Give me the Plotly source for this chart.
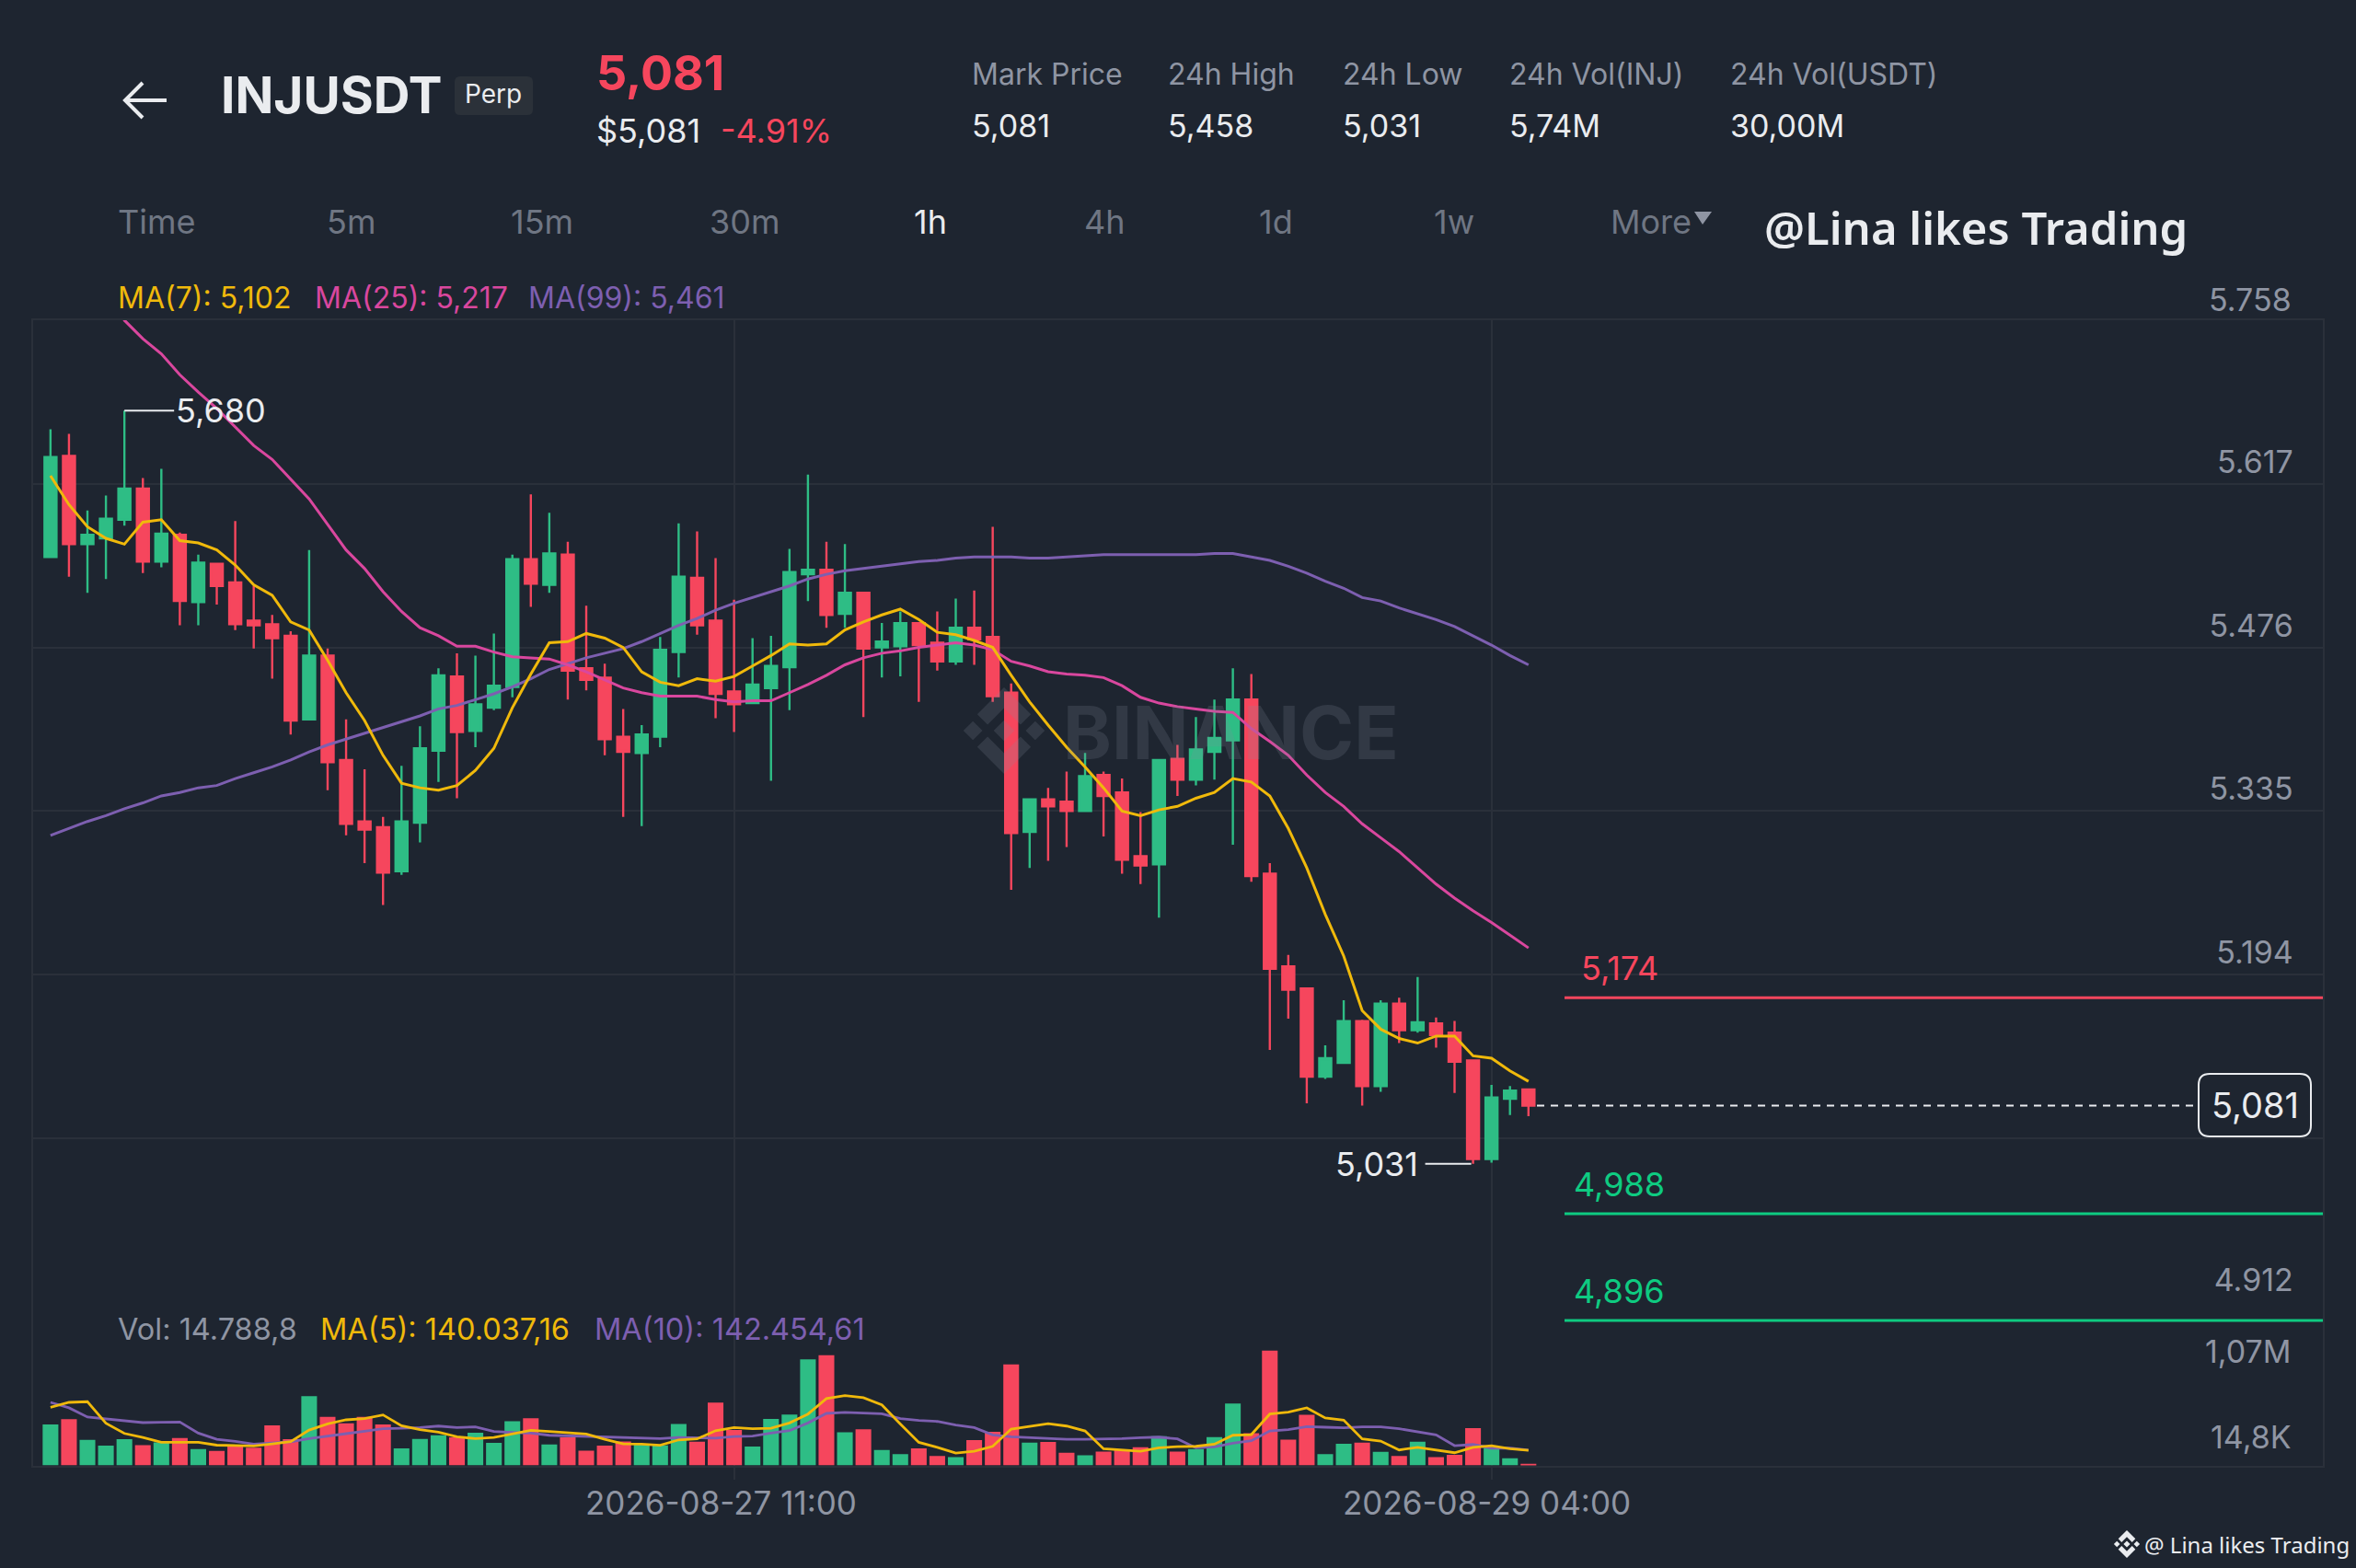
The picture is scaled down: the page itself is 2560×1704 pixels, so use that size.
import pandas as pd
import plotly.graph_objects as go

W, H = 2560, 1704

# hourly candles, first one is 2026-08-25 22:00
start_time = "2026-08-25 22:00"

opens = [5.554, 5.641, 5.565, 5.570, 5.586, 5.613, 5.550, 5.573, 5.515, 5.548,
         5.532, 5.499, 5.496, 5.486, 5.414, 5.469, 5.379, 5.326, 5.321, 5.283,
         5.325, 5.387, 5.451, 5.404, 5.424, 5.442, 5.552, 5.530, 5.556, 5.458,
         5.450, 5.399, 5.385, 5.399, 5.472, 5.536, 5.499, 5.438, 5.428, 5.441,
         5.459, 5.539, 5.543, 5.505, 5.523, 5.476, 5.477, 5.497, 5.480, 5.464,
         5.493, 5.485, 5.437, 5.317, 5.345, 5.343, 5.335, 5.366, 5.351, 5.296,
         5.289, 5.380, 5.362, 5.386, 5.396, 5.431, 5.281, 5.201, 5.182, 5.106,
         5.118, 5.154, 5.098, 5.169, 5.146, 5.152, 5.144, 5.120, 5.035, 5.087,
         5.095]
highs = [5.664, 5.660, 5.594, 5.607, 5.680, 5.622, 5.630, 5.575, 5.556, 5.549,
         5.585, 5.529, 5.504, 5.490, 5.560, 5.475, 5.414, 5.371, 5.330, 5.374,
         5.408, 5.458, 5.471, 5.469, 5.488, 5.556, 5.608, 5.592, 5.567, 5.512,
         5.462, 5.423, 5.409, 5.485, 5.583, 5.576, 5.553, 5.517, 5.484, 5.486,
         5.561, 5.625, 5.567, 5.565, 5.523, 5.497, 5.507, 5.497, 5.507, 5.518,
         5.525, 5.580, 5.445, 5.345, 5.355, 5.369, 5.385, 5.369, 5.363, 5.334,
         5.379, 5.392, 5.416, 5.431, 5.458, 5.453, 5.290, 5.211, 5.182, 5.133,
         5.172, 5.155, 5.172, 5.174, 5.192, 5.157, 5.154, 5.121, 5.099, 5.098,
         5.096]
lows = [5.554, 5.537, 5.523, 5.535, 5.581, 5.540, 5.545, 5.495, 5.495, 5.513,
        5.491, 5.475, 5.449, 5.401, 5.414, 5.353, 5.314, 5.290, 5.254, 5.280,
        5.308, 5.360, 5.346, 5.390, 5.422, 5.433, 5.511, 5.523, 5.431, 5.439,
        5.383, 5.330, 5.322, 5.390, 5.450, 5.487, 5.415, 5.403, 5.428, 5.361,
        5.422, 5.516, 5.493, 5.493, 5.416, 5.450, 5.451, 5.429, 5.456, 5.461,
        5.461, 5.429, 5.267, 5.286, 5.292, 5.304, 5.335, 5.313, 5.281, 5.272,
        5.243, 5.348, 5.357, 5.362, 5.306, 5.274, 5.129, 5.156, 5.083, 5.104,
        5.117, 5.081, 5.093, 5.135, 5.144, 5.131, 5.092, 5.031, 5.032, 5.073,
        5.072]
closes = [5.640, 5.565, 5.573, 5.587, 5.613, 5.550, 5.574, 5.516, 5.549, 5.529,
          5.496, 5.495, 5.484, 5.413, 5.469, 5.377, 5.324, 5.319, 5.282, 5.326,
          5.389, 5.452, 5.403, 5.427, 5.443, 5.552, 5.531, 5.557, 5.456, 5.448,
          5.397, 5.386, 5.401, 5.474, 5.537, 5.495, 5.436, 5.427, 5.444, 5.460,
          5.541, 5.543, 5.504, 5.523, 5.475, 5.481, 5.497, 5.478, 5.464, 5.493,
          5.483, 5.434, 5.316, 5.345, 5.339, 5.335, 5.365, 5.348, 5.293, 5.288,
          5.379, 5.362, 5.388, 5.398, 5.431, 5.279, 5.199, 5.181, 5.106, 5.122,
          5.154, 5.098, 5.169, 5.146, 5.153, 5.142, 5.119, 5.035, 5.088, 5.094,
          5.081]

ma7 = [5.624, 5.599, 5.580, 5.570, 5.565, 5.584, 5.586, 5.568, 5.566, 5.560,
       5.547, 5.530, 5.521, 5.498, 5.491, 5.465, 5.437, 5.413, 5.383, 5.359,
       5.355, 5.353, 5.357, 5.370, 5.389, 5.424, 5.453, 5.480, 5.481, 5.488,
       5.484, 5.476, 5.455, 5.446, 5.443, 5.449, 5.447, 5.451, 5.460, 5.469,
       5.479, 5.478, 5.479, 5.491, 5.498, 5.504, 5.509, 5.500, 5.489, 5.487,
       5.482, 5.476, 5.452, 5.429, 5.409, 5.390, 5.373, 5.355, 5.335, 5.331,
       5.336, 5.339, 5.346, 5.351, 5.363, 5.360, 5.348, 5.320, 5.286, 5.246,
       5.210, 5.163, 5.147, 5.139, 5.135, 5.141, 5.141, 5.124, 5.122, 5.111,
       5.102]
# the first values of MA(25) are above the top of the chart
ma25 = [None, None, None, 5.790, 5.758, 5.742, 5.729, 5.711, 5.696, 5.682,
        5.666, 5.650, 5.638, 5.621, 5.604, 5.582, 5.560, 5.544, 5.524, 5.507,
        5.493, 5.486, 5.477, 5.477, 5.472, 5.468, 5.467, 5.466, 5.461, 5.455,
        5.448, 5.441, 5.437, 5.434, 5.434, 5.434, 5.431, 5.429, 5.430, 5.430,
        5.437, 5.444, 5.452, 5.461, 5.467, 5.471, 5.473, 5.476, 5.478, 5.480,
        5.478, 5.474, 5.464, 5.460, 5.455, 5.453, 5.452, 5.450, 5.443, 5.433,
        5.428, 5.425, 5.423, 5.421, 5.420, 5.406, 5.395, 5.383, 5.366, 5.351,
        5.339, 5.324, 5.312, 5.300, 5.286, 5.272, 5.260, 5.249, 5.239, 5.228,
        5.217]
ma99 = [5.314, 5.320, 5.326, 5.331, 5.337, 5.342, 5.348, 5.351, 5.355, 5.357,
        5.363, 5.368, 5.373, 5.379, 5.386, 5.392, 5.397, 5.402, 5.407, 5.412,
        5.417, 5.423, 5.426, 5.431, 5.436, 5.442, 5.449, 5.457, 5.462, 5.467,
        5.471, 5.475, 5.481, 5.488, 5.495, 5.501, 5.508, 5.514, 5.519, 5.524,
        5.529, 5.535, 5.539, 5.542, 5.544, 5.546, 5.548, 5.550, 5.551, 5.553,
        5.554, 5.554, 5.554, 5.553, 5.553, 5.554, 5.555, 5.556, 5.556, 5.556,
        5.556, 5.556, 5.556, 5.557, 5.557, 5.554, 5.551, 5.546, 5.540, 5.533,
        5.527, 5.519, 5.516, 5.510, 5.505, 5.500, 5.494, 5.486, 5.478, 5.469,
        5.461]

# volume in thousands
volumes = [382, 431, 238, 184, 244, 189, 215, 255, 152, 135,
           181, 166, 373, 244, 646, 453, 393, 453, 382, 158,
           247, 281, 261, 304, 210, 413, 439, 195, 261, 138,
           184, 224, 198, 187, 387, 221, 585, 330, 175, 433,
           474, 990, 1027, 310, 336, 144, 106, 158, 89, 77,
           235, 313, 941, 212, 218, 118, 95, 129, 144, 169,
           273, 129, 152, 264, 577, 301, 1070, 241, 471, 106,
           201, 212, 126, 89, 221, 77, 98, 347, 164, 66,
           14.8]
vol_ma5 = [542, 588, 594, 393, 298, 261, 215, 218, 215, 189,
           184, 181, 201, 221, 330, 387, 425, 436, 471, 370,
           333, 310, 267, 250, 261, 296, 327, 316, 307, 293,
           244, 201, 198, 187, 238, 247, 324, 353, 342, 347,
           396, 479, 623, 651, 631, 565, 387, 215, 169, 115,
           132, 178, 339, 362, 390, 367, 321, 155, 141, 132,
           164, 175, 178, 198, 281, 287, 479, 497, 537, 442,
           422, 247, 227, 144, 169, 144, 118, 169, 184, 155,
           140]
vol_ma10 = [588, 537, 451, 433, 413, 399, 402, 405, 301, 244,
            224, 198, 210, 221, 250, 276, 296, 319, 342, 347,
            353, 367, 353, 359, 316, 307, 301, 281, 276, 273,
            270, 264, 258, 250, 261, 255, 255, 270, 273, 301,
            324, 396, 485, 494, 491, 482, 436, 419, 410, 376,
            353, 284, 267, 258, 247, 244, 244, 244, 250, 258,
            264, 247, 164, 172, 207, 230, 321, 333, 362, 356,
            350, 359, 359, 342, 310, 284, 184, 195, 161, 161,
            142]

price_ticks = [5.758, 5.617, 5.476, 5.335, 5.194, 5.053, 4.912]
price_tick_labels = ["5.758", "5.617", "5.476", "5.335", "5.194", "", "4.912"]
date_ticks = ["2026-08-27 11:00", "2026-08-29 04:00"]
level_values = [5.174, 4.988, 4.896]
level_labels = ["5,174", "4,988", "4,896"]
last_price = 5.081

BG = "#1E2530"
GRID = "#2A303A"
RED = "#F6465D"
GREEN = "#2EBD85"
LEVEL_GREEN = "#0ECB81"
YELLOW = "#F0B90B"
PINK = "#D9479E"
PURPLE = "#7D5FB0"
GREY = "#8F95A3"
DIM = "#6F7683"
WHITE = "#EAECEF"
FONT = "Inter"

dates = pd.date_range(start_time, periods=len(closes), freq="h")
vol_values = [v * 1000 for v in volumes]
vol_colors = [GREEN if c >= o else RED for o, c in zip(opens, closes)]


def px(x):
    return x / W


def py(y):
    return 1 - y / H


def label(x, y, text, size=32, color=WHITE, anchor="left", weight=400, family=FONT):
    # texte placé en pixels de l'image
    return dict(xref="paper", yref="paper", x=px(x), y=py(y), text=text, showarrow=False,
                xanchor=anchor, yanchor="middle",
                font=dict(family=family, size=size, color=color, weight=weight))


def logo_path(cx, cy, r):
    parts = [
        [(0, -1), (.62, -.38), (.38, -.14), (0, -.52), (-.38, -.14), (-.62, -.38)],
        [(0, 1), (.62, .38), (.38, .14), (0, .52), (-.38, .14), (-.62, .38)],
        [(0, -.24), (.24, 0), (0, .24), (-.24, 0)],
        [(-.72, -.22), (-.5, 0), (-.72, .22), (-.94, 0)],
        [(.72, -.22), (.94, 0), (.72, .22), (.5, 0)],
    ]
    path = ""
    for part in parts:
        pts = [f"{px(cx + a * r)} {py(cy + b * r)}" for a, b in part]
        path += "M" + " L".join(pts) + " Z "
    return path


def rounded_box(x0, y0, x1, y1, r):
    return (f"M{px(x0 + r)} {py(y0)} L{px(x1 - r)} {py(y0)} Q{px(x1)} {py(y0)} {px(x1)} {py(y0 + r)} "
            f"L{px(x1)} {py(y1 - r)} Q{px(x1)} {py(y1)} {px(x1 - r)} {py(y1)} "
            f"L{px(x0 + r)} {py(y1)} Q{px(x0)} {py(y1)} {px(x0)} {py(y1 - r)} "
            f"L{px(x0)} {py(y0 + r)} Q{px(x0)} {py(y0)} {px(x0 + r)} {py(y0)} Z")


fig = go.Figure()

# bougies et moyennes mobiles
fig.add_trace(go.Candlestick(
    x=dates, open=opens, high=highs, low=lows, close=closes,
    increasing=dict(line=dict(color=GREEN, width=2.4), fillcolor=GREEN),
    decreasing=dict(line=dict(color=RED, width=2.4), fillcolor=RED),
    whiskerwidth=0,
))
for values, color in [(ma99, PURPLE), (ma25, PINK), (ma7, YELLOW)]:
    fig.add_trace(go.Scatter(x=dates, y=values, mode="lines", line=dict(color=color, width=3)))

# volume
fig.add_trace(go.Bar(x=dates, y=vol_values, marker=dict(color=vol_colors, line=dict(width=0)), yaxis="y2"))
for values, color in [(vol_ma10, PURPLE), (vol_ma5, YELLOW)]:
    fig.add_trace(go.Scatter(x=dates, y=[v * 1000 for v in values], mode="lines",
                             line=dict(color=color, width=2.8), yaxis="y2"))

shapes = []
annotations = []

# niveaux horizontaux à droite
for value, text, color, text_x in zip(level_values, level_labels, [RED, LEVEL_GREEN, LEVEL_GREEN], [1716, 1708, 1708]):
    shapes.append(dict(type="line", xref="paper", yref="y", x0=px(1700), x1=px(2524), y0=value, y1=value,
                       line=dict(color=color, width=3)))
    annotations.append(dict(xref="paper", yref="y", x=px(text_x), y=value, text=text, showarrow=False,
                            xanchor="left", yanchor="middle", yshift=32,
                            font=dict(family=FONT, size=36, color=color)))

# dernier prix
shapes.append(dict(type="line", xref="paper", yref="y", x0=px(1670), x1=px(2389), y0=last_price, y1=last_price,
                   line=dict(color=WHITE, width=2, dash="8px,7px")))
shapes.append(dict(type="path", xref="paper", yref="paper", path=rounded_box(2389, 1167, 2511, 1235, 12),
                   fillcolor=BG, line=dict(color=WHITE, width=2)))
annotations.append(label(2450, 1201, "5,081", size=38, anchor="center"))

# plus haut et plus bas visibles
high_idx = highs.index(max(highs))
low_idx = lows.index(min(lows))
shapes.append(dict(type="line", xref="x", yref="y", xsizemode="pixel", xanchor=dates[high_idx],
                   x0=0, x1=54, y0=highs[high_idx], y1=highs[high_idx], line=dict(color=WHITE, width=2)))
shapes.append(dict(type="line", xref="x", yref="y", xsizemode="pixel", xanchor=dates[low_idx],
                   x0=-52, x1=-2, y0=lows[low_idx], y1=lows[low_idx], line=dict(color=WHITE, width=2)))
annotations.append(dict(xref="x", yref="y", x=dates[high_idx], y=highs[high_idx], text="5,680", showarrow=False,
                        xanchor="left", yanchor="middle", xshift=54, font=dict(family=FONT, size=36, color=WHITE)))
annotations.append(dict(xref="x", yref="y", x=dates[low_idx], y=lows[low_idx], text="5,031", showarrow=False,
                        xanchor="right", yanchor="middle", xshift=-58, font=dict(family=FONT, size=36, color=WHITE)))

# filigrane
shapes.append(dict(type="path", xref="paper", yref="paper", path=logo_path(1091, 794, 47),
                   fillcolor="rgba(132,142,156,0.2)", line=dict(width=0)))
annotations.append(label(1153, 795, "BINANCE", size=80, color="rgba(132,142,156,0.2)", weight=700))

# en-tête
shapes.append(dict(type="path", xref="paper", yref="paper",
                   path=f"M{px(181)} {py(109)} L{px(136)} {py(109)} M{px(155)} {py(90)} L{px(136)} {py(109)} L{px(155)} {py(128)}",
                   line=dict(color=WHITE, width=4)))
shapes.append(dict(type="path", xref="paper", yref="paper", path=rounded_box(494, 83, 579, 125, 6),
                   fillcolor="#2B3139", line=dict(width=0)))
annotations += [
    label(238, 103, "INJUSDT", size=55, weight=700),
    label(536, 102, "Perp", size=28, anchor="center"),
    label(646, 79, "5,081", size=52, color=RED, weight=700),
    label(646, 142, "$5,081", size=36),
    label(781, 142, "-4.91%", size=36, color=RED),
]
for x, head, value in [(1054, "Mark Price", "5,081"), (1267, "24h High", "5,458"), (1457, "24h Low", "5,031"),
                       (1638, "24h Vol(INJ)", "5,74M"), (1878, "24h Vol(USDT)", "30,00M")]:
    annotations.append(label(x, 80, head, color=GREY))
    annotations.append(label(x, 136, value, size=34))

# intervalles
for x, text in [(126, "Time"), (353, "5m"), (553, "15m"), (769, "30m"), (991, "1h"), (1176, "4h"),
                (1366, "1d"), (1556, "1w"), (1748, "More")]:
    annotations.append(label(x, 241, text, size=36, color=WHITE if text == "1h" else DIM))
shapes.append(dict(type="path", xref="paper", yref="paper",
                   path=f"M{px(1841)} {py(230)} L{px(1860)} {py(230)} L{px(1850)} {py(244)} Z",
                   fillcolor=GREY, line=dict(width=0)))
annotations.append(label(1915, 247, "@Lina likes Trading", size=49, weight=600, family="Noto Sans"))

# légendes des moyennes
annotations += [
    label(126, 324, "MA(7): 5,102", size=32, color=YELLOW),
    label(340, 324, "MA(25): 5,217", size=32, color=PINK),
    label(572, 324, "MA(99): 5,461", size=32, color=PURPLE),
    label(126, 1444, "Vol: 14.788,8", size=32.5, color=GREY),
    label(346, 1444, "MA(5): 140.037,16", size=32.5, color=YELLOW),
    label(644, 1444, "MA(10): 142.454,61", size=32.5, color=PURPLE),
    label(2492, 325, price_tick_labels[0], size=34, color=GREY, anchor="right"),
    label(2492, 1468, "1,07M", size=34, color=GREY, anchor="right"),
    label(2492, 1561, "14,8K", size=34, color=GREY, anchor="right"),
]

# dates sous l'axe
for tick, shift in zip(date_ticks, [-14, -5]):
    annotations.append(dict(xref="x", yref="paper", x=tick, y=py(1633), text=tick, showarrow=False,
                            xanchor="center", yanchor="middle", xshift=shift,
                            font=dict(family=FONT, size=35, color=GREY)))

# signature en bas à droite
shapes.append(dict(type="path", xref="paper", yref="paper", path=logo_path(2311, 1678, 15),
                   fillcolor=WHITE, line=dict(width=0)))
annotations.append(label(2328, 1678, "@ Lina likes Trading", size=24, family="Noto Sans"))

axis_font = dict(family=FONT, size=34, color=GREY)
fig.update_layout(
    width=W,
    height=H,
    margin=dict(l=0, r=0, t=0, b=0),
    paper_bgcolor=BG,
    plot_bgcolor=BG,
    showlegend=False,
    bargap=0.15,
    boxgap=0.35,
    boxgroupgap=0,
    shapes=shapes,
    annotations=annotations,
    xaxis=dict(
        type="date",
        domain=[px(36), px(2524)],
        range=[dates[0] - pd.Timedelta(hours=0.94), dates[0] + pd.Timedelta(hours=123)],
        rangeslider=dict(visible=False),
        anchor="y",
        tickmode="array",
        tickvals=date_ticks,
        showticklabels=False,
        ticks="outside",
        ticklen=13,
        tickcolor=GRID,
        tickwidth=2,
        showgrid=True,
        gridcolor=GRID,
        gridwidth=2,
        showline=True,
        mirror=True,
        linecolor=GRID,
        linewidth=2,
        zeroline=False,
    ),
    yaxis=dict(
        domain=[py(1592.5), py(348)],
        range=[4.771, 5.758],
        side="right",
        tickmode="array",
        tickvals=price_ticks[1:],
        ticktext=price_tick_labels[1:],
        tickfont=axis_font,
        ticklabelposition="inside top",
        ticklabelstandoff=35,
        ticks="",
        showgrid=True,
        gridcolor=GRID,
        gridwidth=2,
        showline=True,
        mirror=True,
        linecolor=GRID,
        linewidth=2,
        zeroline=False,
    ),
    yaxis2=dict(
        domain=[py(1592.5), py(1414)],
        range=[0, 1532000],
        anchor="x",
        showticklabels=False,
        showgrid=False,
        zeroline=False,
        ticks="",
    ),
)

# sans la marge du navigateur la figure remplit la fenêtre
fig.write_html("out.html", config={"displayModeBar": False}, post_script="document.body.style.margin='0';")
